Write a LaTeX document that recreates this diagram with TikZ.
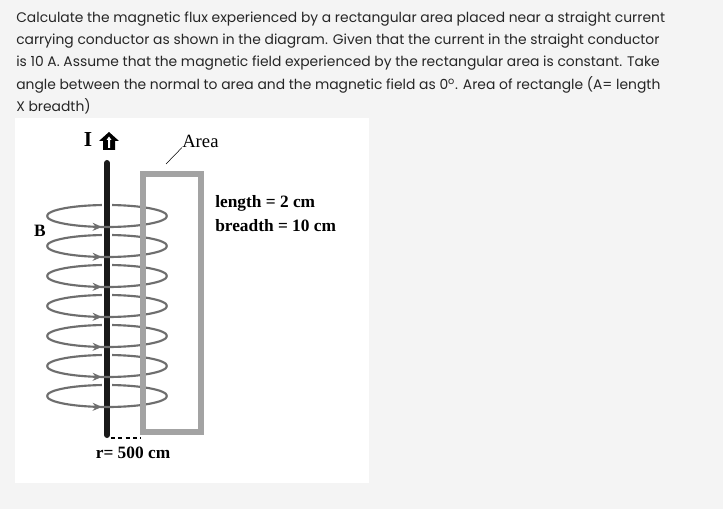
\documentclass[tikz,border=0pt]{standalone}
\usepackage{fontspec}
\setmainfont{Liberation Serif}
\newfontfamily\popp{Poppins}
\usetikzlibrary{decorations.markings,arrows.meta}
\definecolor{bggray}{HTML}{F4F4F4}
\definecolor{coil}{HTML}{6E6E6E}
\definecolor{rectg}{HTML}{A3A3A3}
\begin{document}
\begin{tikzpicture}[x=0.75pt,y=-0.75pt,
  hdr/.style={anchor=west,inner sep=0pt,font=\popp\fontsize{10.4}{12}\selectfont,text=black!85},
  lbl/.style={inner sep=0pt,font=\bfseries\fontsize{13}{15}\selectfont},
  coilline/.style={draw=coil,line width=1.6pt},
  frontarr/.style={coilline,postaction={decorate},decoration={markings,mark=at position 0.46 with {\arrow{Stealth[length=7pt,width=6pt]}}}}]
\fill[bggray] (0,0) rectangle (723,509);
\useasboundingbox (0,0) rectangle (723,509);
\fill[white] (15,118) rectangle (369,483);
\node[hdr] (h1) at (16,19) {Calculate the magnetic flux experienced by a rectangular area placed near a straight current};
\node[hdr] (h2) at (16,41) {carrying conductor as shown in the diagram. Given that the current in the straight conductor};
\node[hdr] (h3) at (16,63) {is 10 A. Assume that the magnetic field experienced by the rectangular area is constant. Take};
\node[hdr] (h4) at (16,85) {angle between the normal to area and the magnetic field as 0\textsuperscript{o}. Area of rectangle (A= length};
\node[hdr] (h5) at (16,106) {X breadth)};
% back halves
\foreach \c in {216,246,276,306,336,366,396}{
  \draw[coilline] (47,\c) arc[start angle=180,end angle=360,x radius=60,y radius=11];
}
% wire
\coordinate (wt) at (107,163);
\coordinate (wb) at (107,435);
\draw[white,line width=8pt] (wt) -- (wb);
\draw[black!90,line width=4.5pt,line cap=round] (wt) -- (wb);
% front halves
\foreach \c in {216,246,276,306,336,366,396}{
  \draw[frontarr] (47,\c) arc[start angle=180,end angle=0,x radius=60,y radius=11];
}
% rectangle
\draw[rectg,line width=4.5pt] (143,174) rectangle (201,432);
% current arrow
\node[inner sep=0pt] (arr) at (109,141) {};
\fill[black] (103,150) -- (103,141) -- (99,141) -- (109,132) -- (119,141) -- (115,141) -- (115,150) -- cycle;
\fill[white] (108,148) -- (108,140) -- (106.5,140) -- (109,136.5) -- (111.5,140) -- (110,140) -- (110,148) -- cycle;
\node[lbl,font=\bfseries\fontsize{16}{18}\selectfont] (I) at (88,140) {I};
\node[lbl] (B) at (40,231) {B};
\node[inner sep=0pt,font=\fontsize{14}{16}\selectfont,anchor=west] (area) at (182,141) {Area};
\coordinate (ap) at (166,164);
\draw[black,line width=0.4pt] (ap) -- (area.south west);
\node[lbl,anchor=west] (len) at (215,203) {length = 2 cm};
\node[lbl,anchor=west] (br) at (215,226) {breadth = 10 cm};
\coordinate (d1) at (111,438);
\coordinate (d2) at (141,438);
\draw[black,line width=0.8pt,dash pattern=on 3pt off 2.5pt] (d1) -- (d2);
\node[lbl] (r) at (133,453) {r= 500 cm};
\end{tikzpicture}
\end{document}
